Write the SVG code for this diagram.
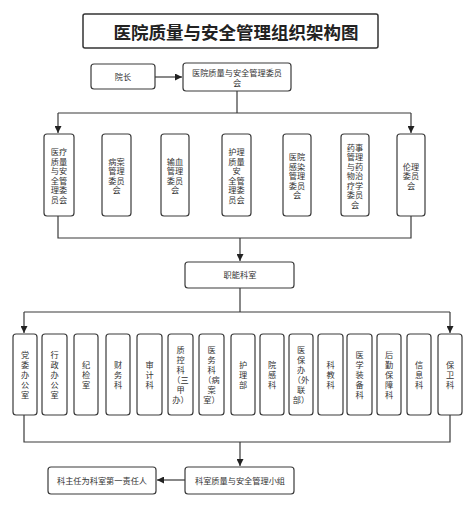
<svg xmlns="http://www.w3.org/2000/svg" width="474" height="505" viewBox="0 0 474 505">
<style>
.b{fill:#fff;stroke:#3a3a3a;stroke-width:1.2}
.t{font-family:"Liberation Sans","Noto Sans CJK SC",sans-serif;font-size:8.2px;fill:#333;text-anchor:middle}
.ttl{font-family:"Liberation Sans","Noto Sans CJK SC",sans-serif;font-size:17.5px;font-weight:bold;fill:#222;text-anchor:middle}
.c{fill:none;stroke:#3a3a3a;stroke-width:1.2}
</style>
<defs>
<marker id="a" viewBox="0 0 10 10" refX="10" refY="5" markerWidth="7" markerHeight="7" markerUnits="userSpaceOnUse" orient="auto">
<path d="M0,0L10,5L0,10z" fill="#222"/>
</marker>
</defs>
<rect width="474" height="505" fill="#fff"/>
<g id="title"><rect x="83" y="14" width="295" height="34" rx="2" fill="#fff" stroke="#333" stroke-width="1.5"/><text class="ttl" x="236" y="39">医院质量与安全管理组织架构图</text></g>

<g id="connectors">
<path class="c" d="M155,77H182" marker-end="url(#a)"/>
<path class="c" d="M237,91V113M58,113H411"/>
<path class="c" d="M58,113V133" marker-end="url(#a)"/>
<path class="c" d="M411,113V133" marker-end="url(#a)"/>
<path class="c" d="M58,216V238H411V216"/>
<path class="c" d="M240,238V261" marker-end="url(#a)"/>
<path class="c" d="M240,288V312M24,312H450"/>
<path class="c" d="M24,312V333" marker-end="url(#a)"/>
<path class="c" d="M450,312V333" marker-end="url(#a)"/>
<path class="c" d="M24,415V442H450V415"/>
<path class="c" d="M240,442V466" marker-end="url(#a)"/>
<path class="c" d="M185,480H157" marker-end="url(#a)"/>
</g>

<g id="n-yuanzhang"><rect class="b" x="91" y="64" width="64" height="25" rx="3"/><text class="t" x="123" y="80">院长</text></g>
<g id="n-committee"><rect class="b" x="183" y="63" width="108" height="28" rx="3"/><text class="t" x="237" y="76">医院质量与安全管理委员</text><text class="t" x="237" y="86">会</text></g>

<g id="n-c1"><rect class="b" x="44" y="134" width="30" height="82" rx="3"/><text class="t"><tspan x="59" y="155.3">医疗</tspan><tspan x="59" dy="9.5">质量</tspan><tspan x="59" dy="9.5">与安</tspan><tspan x="59" dy="9.5">全管</tspan><tspan x="59" dy="9.5">理委</tspan><tspan x="59" dy="9.5">员会</tspan></text></g>
<g id="n-c2"><rect class="b" x="102" y="134" width="29" height="82" rx="3"/><text class="t"><tspan x="116.5" y="164.8">病案</tspan><tspan x="116.5" dy="9.5">管理</tspan><tspan x="116.5" dy="9.5">委员</tspan><tspan x="116.5" dy="9.5">会</tspan></text></g>
<g id="n-c3"><rect class="b" x="161" y="134" width="28" height="82" rx="3"/><text class="t"><tspan x="175" y="164.8">输血</tspan><tspan x="175" dy="9.5">管理</tspan><tspan x="175" dy="9.5">委员</tspan><tspan x="175" dy="9.5">会</tspan></text></g>
<g id="n-c4"><rect class="b" x="222" y="134" width="29" height="82" rx="3"/><text class="t"><tspan x="236.5" y="155.3">护理</tspan><tspan x="236.5" dy="9.5">质量</tspan><tspan x="236.5" dy="9.5">安</tspan><tspan x="236.5" dy="9.5">全管</tspan><tspan x="236.5" dy="9.5">理委</tspan><tspan x="236.5" dy="9.5">员会</tspan></text></g>
<g id="n-c5"><rect class="b" x="283" y="134" width="28" height="82" rx="3"/><text class="t"><tspan x="297" y="160">医院</tspan><tspan x="297" dy="9.5">感染</tspan><tspan x="297" dy="9.5">管理</tspan><tspan x="297" dy="9.5">委员</tspan><tspan x="297" dy="9.5">会</tspan></text></g>
<g id="n-c6"><rect class="b" x="341" y="134" width="28" height="82" rx="3"/><text class="t"><tspan x="355" y="150.5">药事</tspan><tspan x="355" dy="9.5">管理</tspan><tspan x="355" dy="9.5">与药</tspan><tspan x="355" dy="9.5">物治</tspan><tspan x="355" dy="9.5">疗学</tspan><tspan x="355" dy="9.5">委员</tspan><tspan x="355" dy="9.5">会</tspan></text></g>
<g id="n-c7"><rect class="b" x="397" y="134" width="28" height="82" rx="3"/><text class="t"><tspan x="411" y="169.5">伦理</tspan><tspan x="411" dy="9.5">委员</tspan><tspan x="411" dy="9.5">会</tspan></text></g>

<g id="n-zhineng"><rect class="b" x="185" y="262" width="109" height="26" rx="3"/><text class="t" x="240" y="278">职能科室</text></g>

<g id="n-d1"><rect class="b" x="13" y="334" width="24" height="81" rx="3"/><text class="t"><tspan x="25" y="358">党</tspan><tspan x="25" dy="10">委</tspan><tspan x="25" dy="10">办</tspan><tspan x="25" dy="10">公</tspan><tspan x="25" dy="10">室</tspan></text></g>
<g id="n-d2"><rect class="b" x="42" y="334" width="25" height="81" rx="3"/><text class="t"><tspan x="54.5" y="358">行</tspan><tspan x="54.5" dy="10">政</tspan><tspan x="54.5" dy="10">办</tspan><tspan x="54.5" dy="10">公</tspan><tspan x="54.5" dy="10">室</tspan></text></g>
<g id="n-d3"><rect class="b" x="74" y="334" width="24" height="81" rx="3"/><text class="t"><tspan x="86" y="368">纪</tspan><tspan x="86" dy="10">检</tspan><tspan x="86" dy="10">室</tspan></text></g>
<g id="n-d4"><rect class="b" x="106" y="334" width="24" height="81" rx="3"/><text class="t"><tspan x="118" y="368">财</tspan><tspan x="118" dy="10">务</tspan><tspan x="118" dy="10">科</tspan></text></g>
<g id="n-d5"><rect class="b" x="137" y="334" width="25" height="81" rx="3"/><text class="t"><tspan x="149.5" y="368">审</tspan><tspan x="149.5" dy="10">计</tspan><tspan x="149.5" dy="10">科</tspan></text></g>
<g id="n-d6"><rect class="b" x="168" y="334" width="25" height="81" rx="3"/><text class="t"><tspan x="180.5" y="353">质</tspan><tspan x="180.5" dy="10">控</tspan><tspan x="180.5" dy="10">科</tspan><tspan x="180.5" dy="10">（三</tspan><tspan x="180.5" dy="10">甲</tspan><tspan x="180.5" dy="10">办）</tspan></text></g>
<g id="n-d7"><rect class="b" x="199" y="334" width="25" height="81" rx="3"/><text class="t"><tspan x="211.5" y="353">医</tspan><tspan x="211.5" dy="10">务</tspan><tspan x="211.5" dy="10">科</tspan><tspan x="211.5" dy="10">（病</tspan><tspan x="211.5" dy="10">案</tspan><tspan x="211.5" dy="10">室）</tspan></text></g>
<g id="n-d8"><rect class="b" x="231" y="334" width="24" height="81" rx="3"/><text class="t"><tspan x="243" y="368">护</tspan><tspan x="243" dy="10">理</tspan><tspan x="243" dy="10">部</tspan></text></g>
<g id="n-d9"><rect class="b" x="260" y="334" width="24" height="81" rx="3"/><text class="t"><tspan x="272" y="368">院</tspan><tspan x="272" dy="10">感</tspan><tspan x="272" dy="10">科</tspan></text></g>
<g id="n-d10"><rect class="b" x="289" y="334" width="24" height="81" rx="3"/><text class="t"><tspan x="301" y="353">医</tspan><tspan x="301" dy="10">保</tspan><tspan x="301" dy="10">办</tspan><tspan x="301" dy="10">（外</tspan><tspan x="301" dy="10">联</tspan><tspan x="301" dy="10">部）</tspan></text></g>
<g id="n-d11"><rect class="b" x="318" y="334" width="25" height="81" rx="3"/><text class="t"><tspan x="330.5" y="368">科</tspan><tspan x="330.5" dy="10">教</tspan><tspan x="330.5" dy="10">科</tspan></text></g>
<g id="n-d12"><rect class="b" x="347" y="334" width="25" height="81" rx="3"/><text class="t"><tspan x="359.5" y="358">医</tspan><tspan x="359.5" dy="10">学</tspan><tspan x="359.5" dy="10">装</tspan><tspan x="359.5" dy="10">备</tspan><tspan x="359.5" dy="10">科</tspan></text></g>
<g id="n-d13"><rect class="b" x="377" y="334" width="24" height="81" rx="3"/><text class="t"><tspan x="389" y="358">后</tspan><tspan x="389" dy="10">勤</tspan><tspan x="389" dy="10">保</tspan><tspan x="389" dy="10">障</tspan><tspan x="389" dy="10">科</tspan></text></g>
<g id="n-d14"><rect class="b" x="407" y="334" width="24" height="81" rx="3"/><text class="t"><tspan x="419" y="368">信</tspan><tspan x="419" dy="10">息</tspan><tspan x="419" dy="10">科</tspan></text></g>
<g id="n-d15"><rect class="b" x="438" y="334" width="24" height="81" rx="3"/><text class="t"><tspan x="450" y="368">保</tspan><tspan x="450" dy="10">卫</tspan><tspan x="450" dy="10">科</tspan></text></g>

<g id="n-group"><rect class="b" x="185" y="467" width="109" height="27" rx="3"/><text class="t" x="240" y="483.5">科室质量与安全管理小组</text></g>
<g id="n-head"><rect class="b" x="48" y="467" width="108" height="27" rx="3"/><text class="t" x="102" y="483.5">科主任为科室第一责任人</text></g>
</svg>
